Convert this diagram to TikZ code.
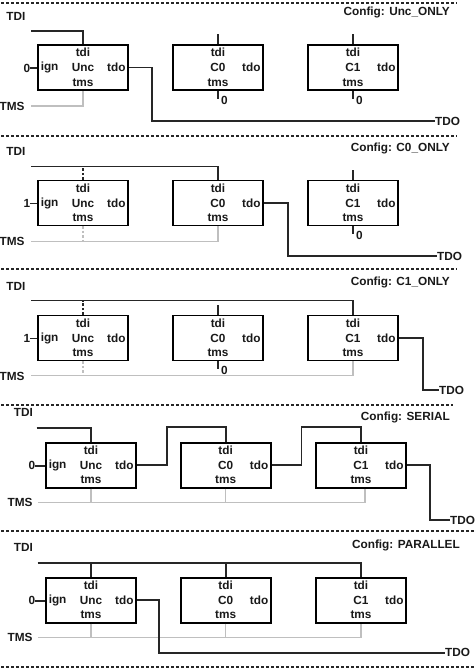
\documentclass[tikz,border=0pt]{standalone}
\usepackage{fontspec}
\setmainfont{Liberation Sans}
\newcommand\ftb{\fontsize{11.8}{14}\selectfont\bfseries}
\newcommand\portsC[1]{%
  \node[txt] (#1-tdi) at ([yshift=-8.5pt]#1.north) {tdi};
  \node[txt] (#1-tms) at ([yshift=8.5pt]#1.south) {tms};
  \node[txt] (#1-tdo) at ([xshift=-12.5pt]#1.east) {tdo};}
\newcommand\portsU[1]{\portsC{#1}%
  \node[txt] (#1-ign) at ([xshift=12.5pt]#1.west) {ign};}
\newcommand\tieoff[1]{%
  \draw[wire] (#1.south) -- ++(0,8);
  \node[txt] (#1z) at ([xshift=6.5pt,yshift=-9.5pt]#1.south) {0};}
\newcommand\opentdi[1]{\draw[wire] (#1.north) -- ++(0,-10);}
\begin{document}
\begin{tikzpicture}[x=1pt,y=-1pt,
  blk/.style={draw=black, line width=1.8pt, minimum width=90pt, minimum height=45pt, inner sep=0pt, font=\ftb, text=black!90},
  txt/.style={font=\ftb, inner sep=0pt, text=black!90},
  wire/.style={draw=black!85, line width=1.7pt},
  gwire/.style={draw=black!25, line width=1.4pt},
  dwire/.style={wire, dash pattern=on 2.5pt off 2pt},
  gdwire/.style={gwire, dash pattern=on 2.5pt off 2pt},
  sep/.style={draw=black!85, line width=2pt, dash pattern=on 3pt off 2pt}]
\useasboundingbox[fill=white] (0,0) rectangle (474,669);

% separators
\coordinate (s0a) at (1,3);     \coordinate (s0b) at (457,3);
\coordinate (s1a) at (1,136);   \coordinate (s1b) at (457,136);
\coordinate (s2a) at (1,268.5); \coordinate (s2b) at (457,268.5);
\coordinate (s3a) at (1,405);   \coordinate (s3b) at (453,405);
\coordinate (s4a) at (1,531);   \coordinate (s4b) at (474,531);
\coordinate (s5a) at (1,666.5); \coordinate (s5b) at (474,666.5);
\draw[sep] (s0a) -- (s0b);
\draw[sep] (s1a) -- (s1b);
\draw[sep] (s2a) -- (s2b);
\draw[sep] (s3a) -- (s3b);
\draw[sep] (s4a) -- (s4b);
\draw[sep] (s5a) -- (s5b);

% ---------- Panel 1: Unc_ONLY
\node[txt,anchor=east] (cfg1) at (450,12.5) {Config: Unc\_ONLY};
\node[blk] (U1) at (83,67.5) {Unc}; \portsU{U1}
\node[blk] (A1) at (218,67.5) {C0}; \portsC{A1}
\node[blk] (B1) at (353,67.5) {C1}; \portsC{B1}
\node[txt] (tdiL1) at (16,16) {TDI};
\coordinate (tdiS1) at (31,31);
\draw[wire] (tdiS1) -| (U1.north);
\node[txt] (ign1) at (27,68) {0};
\draw[wire] (ign1.east) -- (ign1.east -| U1.west);
\node[txt] (tmsL1) at (12,106) {TMS};
\coordinate (tmsS1) at (31,106);
\draw[gwire] (tmsS1) -| (U1.south);
\node[txt,anchor=west] (tdoL1) at (435,121) {TDO};
\draw[wire] (U1.east) -- ++(23,0) |- (tdoL1.west);
\opentdi{A1} \tieoff{A1}
\opentdi{B1} \tieoff{B1}

% ---------- Panel 2: C0_ONLY
\node[txt,anchor=east] (cfg2) at (450,148) {Config: C0\_ONLY};
\node[blk] (U2) at (83,203) {Unc}; \portsU{U2}
\node[blk] (A2) at (218,203) {C0}; \portsC{A2}
\node[blk] (B2) at (353,203) {C1}; \portsC{B2}
\node[txt] (tdiL2) at (16,151.5) {TDI};
\coordinate (tdiS2) at (31,166.5);
\draw[wire] (tdiS2) -| (A2.north);
\draw[dwire] (U2.north) -- (U2.north |- tdiS2);
\node[txt] (ign2) at (27,203.5) {1};
\draw[wire] (ign2.east) -- (ign2.east -| U2.west);
\node[txt] (tmsL2) at (12,241.5) {TMS};
\coordinate (tmsS2) at (31,241.5);
\draw[gwire] (tmsS2) -| (A2.south);
\draw[gdwire] (U2.south) -- (U2.south |- tmsS2);
\node[txt,anchor=west] (tdoL2) at (437,256) {TDO};
\draw[wire] (A2.east) -- ++(24,0) |- (tdoL2.west);
\opentdi{B2} \tieoff{B2}

% ---------- Panel 3: C1_ONLY
\node[txt,anchor=east] (cfg3) at (450,282) {Config: C1\_ONLY};
\node[blk] (U3) at (83,338) {Unc}; \portsU{U3}
\node[blk] (A3) at (218,338) {C0}; \portsC{A3}
\node[blk] (B3) at (353,338) {C1}; \portsC{B3}
\node[txt] (tdiL3) at (16,286) {TDI};
\coordinate (tdiS3) at (31,300.5);
\draw[wire] (tdiS3) -| (B3.north);
\draw[dwire] (U3.north) -- (U3.north |- tdiS3);
\node[txt] (ign3) at (27,338.5) {1};
\draw[wire] (ign3.east) -- (ign3.east -| U3.west);
\node[txt] (tmsL3) at (12,376) {TMS};
\coordinate (tmsS3) at (31,375.5);
\draw[gwire] (tmsS3) -| (B3.south);
\draw[gdwire] (U3.south) -- (U3.south |- tmsS3);
\node[txt,anchor=west] (tdoL3) at (439,390) {TDO};
\draw[wire] (B3.east) -- ++(24,0) |- (tdoL3.west);
\opentdi{A3} \tieoff{A3}

% ---------- Panel 4: SERIAL
\node[txt,anchor=east] (cfg4) at (450,417) {Config: SERIAL};
\node[blk] (U4) at (91,465.2) {Unc}; \portsU{U4}
\node[blk] (A4) at (225.7,465.2) {C0}; \portsC{A4}
\node[blk] (B4) at (361,465.2) {C1}; \portsC{B4}
\node[txt] (tdiL4) at (23.5,412) {TDI};
\coordinate (tdiS4) at (36.7,427.7);
\draw[wire] (tdiS4) -| (U4.north);
\node[txt] (ign4) at (32,465.7) {0};
\draw[wire] (ign4.east) -- (ign4.east -| U4.west);
\node[txt] (tmsL4) at (20,502.7) {TMS};
\coordinate (tmsS4) at (38,502.7);
\coordinate (B4t) at ([xshift=4pt]B4.south);
\draw[gwire] (tmsS4) -| (B4t);
\draw[gwire] (U4.south) -- (U4.south |- tmsS4);
\draw[gwire] (A4.south) -- (A4.south |- tmsS4);
\draw[wire] (U4.east) -- ++(30,0) |- ([yshift=15pt]A4.north) -- (A4.north);
\draw[wire] (A4.east) -- ++(30,0) |- ([yshift=15pt]B4.north) -- (B4.north);
\node[txt,anchor=west] (tdoL4) at (450,520) {TDO};
\draw[wire] (B4.east) -- ++(23,0) |- (tdoL4.west);

% ---------- Panel 5: PARALLEL
\node[txt,anchor=east] (cfg5) at (460,545) {Config: PARALLEL};
\node[blk] (U5) at (91,600.2) {Unc}; \portsU{U5}
\node[blk] (A5) at (225.7,600.2) {C0}; \portsC{A5}
\node[blk] (B5) at (361,600.2) {C1}; \portsC{B5}
\node[txt] (tdiL5) at (23.5,547) {TDI};
\coordinate (tdiS5) at (37.7,563.3);
\draw[wire] (tdiS5) -| (B5.north);
\draw[wire] (U5.north) -- (U5.north |- tdiS5);
\draw[wire] (A5.north) -- (A5.north |- tdiS5);
\node[txt] (ign5) at (32,600.7) {0};
\draw[wire] (ign5.east) -- (ign5.east -| U5.west);
\node[txt] (tmsL5) at (20,637.3) {TMS};
\coordinate (tmsS5) at (38,637.3);
\draw[gwire] (tmsS5) -| (B5.south);
\draw[gwire] (U5.south) -- (U5.south |- tmsS5);
\draw[gwire] (A5.south) -- (A5.south |- tmsS5);
\node[txt,anchor=west] (tdoL5) at (445,652.7) {TDO};
\draw[wire] (U5.east) -- ++(22,0) |- (tdoL5.west);
\end{tikzpicture}
\end{document}
